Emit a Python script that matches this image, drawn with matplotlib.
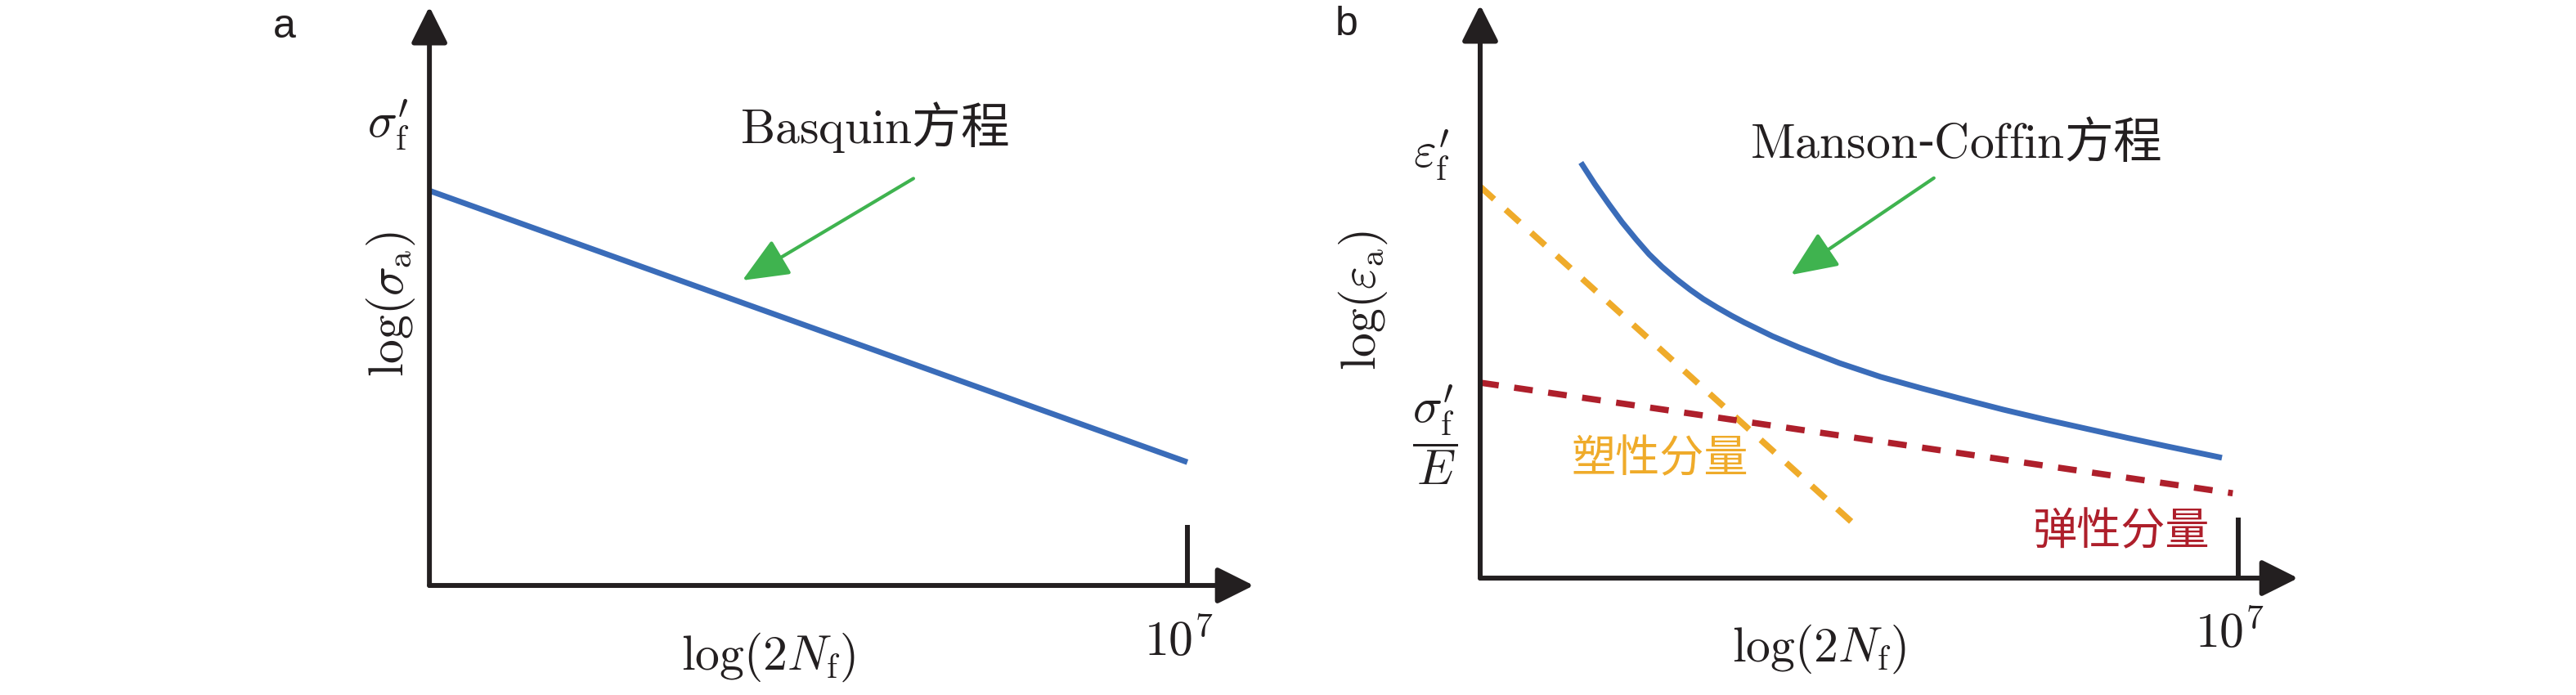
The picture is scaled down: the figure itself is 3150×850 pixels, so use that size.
import matplotlib.pyplot as plt

plt.rcParams['font.family'] = ['Noto Sans CJK SC', 'DejaVu Sans']
plt.rcParams['mathtext.fontset'] = 'cm'

# panel a: Basquin line (x = log(2Nf) units, y = arbitrary log stress units)
a_x = [0.0, 7.0]
a_y = [6.82, 2.13]

# panel b: total strain curve
b_total_x = [0.93, 1.06, 1.19, 1.31, 1.44, 1.56, 1.68, 1.81, 1.94, 2.06, 2.19, 2.32, 2.44,
             2.57, 2.70, 2.95, 3.32, 3.70, 4.08, 4.46, 4.83, 5.21, 5.59, 5.97, 6.34, 6.85]
b_total_y = [7.25, 6.87, 6.52, 6.21, 5.91, 5.65, 5.43, 5.22, 5.03, 4.87, 4.72, 4.58, 4.46,
             4.34, 4.22, 4.02, 3.75, 3.51, 3.31, 3.12, 2.94, 2.77, 2.61, 2.45, 2.30, 2.10]
# plastic and elastic components
b_plastic_x = [0.0, 3.46]
b_plastic_y = [6.83, 0.93]
b_elastic_x = [0.0, 6.95]
b_elastic_y = [3.41, 1.48]

tick_pos = 7
tick_label = r'$10^7$'

INK = '#231f20'
BLUE = '#3a6cb9'
GREEN = '#3fb34f'
ORANGE = '#efab2a'
RED = '#ae1f2b'
FS = 43
AXW = 4.3

fig = plt.figure(figsize=(31.5, 8.5), dpi=100)
ax_a = fig.add_axes([0.1667, 0.1576, 0.3200, 0.8329])
ax_b = fig.add_axes([0.5746, 0.1682, 0.3175, 0.8247])


def draw_frame(ax, xmax):
    ax.set_xlim(0, xmax)
    ax.set_ylim(0, 10)
    ax.axis('off')
    for end in [(1, 0), (0, 1)]:
        ax.annotate('', xy=end, xytext=(0, 0), xycoords='axes fraction',
                    arrowprops=dict(arrowstyle='-|>,head_length=0.4,head_width=0.2',
                                    mutation_scale=68, lw=AXW, color=INK,
                                    shrinkA=0, shrinkB=0))
    ax.plot([tick_pos, tick_pos], [0, 1.05], color=INK, lw=AXW,
            clip_on=False, solid_capstyle='butt')
    ax.text(tick_pos - 0.08, -1.22, tick_label, fontsize=FS, color=INK,
            ha='center', va='baseline')
    ax.text(3.13, -1.45, r'$\log(2N_{\rm f})$', fontsize=FS, color=INK,
            ha='center', va='baseline')


# ---- panel a
draw_frame(ax_a, 7.613)
ax_a.plot(a_x, a_y, color=BLUE, lw=5, solid_capstyle='butt')
ax_a.text(-0.38, 7.95, r'$\sigma_{\rm f}^{\prime}$', fontsize=FS, color=INK,
          ha='center', va='center')
ax_a.text(-0.36, 4.86, r'$\log(\sigma_{\rm a})$', fontsize=FS, color=INK,
          rotation=90, ha='center', va='center')
ax_a.text(2.87, 7.64, r'$\mathrm{Basquin}$方程', fontsize=FS, color=INK,
          ha='left', va='baseline')
ax_a.annotate('', xy=(2.89, 5.27), xytext=(4.47, 7.03),
              arrowprops=dict(arrowstyle='-|>,head_length=0.7,head_width=0.3',
                              mutation_scale=50, lw=3, color=GREEN,
                              shrinkA=0, shrinkB=0))
ax_a.text(-1.34, 9.65, 'a', fontsize=36, color=INK, family='Liberation Sans',
          ha='center', va='center')

# ---- panel b
draw_frame(ax_b, 7.553)
ax_b.plot(b_plastic_x, b_plastic_y, color=ORANGE, lw=5.5, dashes=(3, 2.5))
ax_b.plot(b_elastic_x, b_elastic_y, color=RED, lw=5.5, dashes=(3, 2.5))
ax_b.plot(b_total_x, b_total_y, color=BLUE, lw=5, solid_capstyle='butt')
ax_b.text(-0.45, 7.38, r'$\varepsilon_{\rm f}^{\prime}$', fontsize=FS, color=INK,
          ha='center', va='center')
ax_b.text(-0.42, 2.50, r'$\dfrac{\sigma_{\rm f}^{\prime}}{E}$', fontsize=FS, color=INK,
          ha='center', va='center')
ax_b.text(-1.08, 4.85, r'$\log(\varepsilon_{\rm a})$', fontsize=FS, color=INK,
          rotation=90, ha='center', va='center')
ax_b.text(2.49, 7.33, r'$\mathrm{Manson}$-$\mathrm{Coffin}$方程', fontsize=FS,
          color=INK, ha='left', va='baseline')
ax_b.annotate('', xy=(2.87, 5.29), xytext=(4.19, 6.98),
              arrowprops=dict(arrowstyle='-|>,head_length=0.7,head_width=0.3',
                              mutation_scale=50, lw=3, color=GREEN,
                              shrinkA=0, shrinkB=0))
ax_b.text(1.66, 2.07, '塑性分量', fontsize=39, color=ORANGE, ha='center', va='center')
ax_b.text(5.92, 0.80, '弹性分量', fontsize=39, color=RED, ha='center', va='center')
ax_b.text(-1.23, 9.66, 'b', fontsize=36, color=INK, family='Liberation Sans',
          ha='center', va='center')

fig.savefig('out.png', dpi=100)
